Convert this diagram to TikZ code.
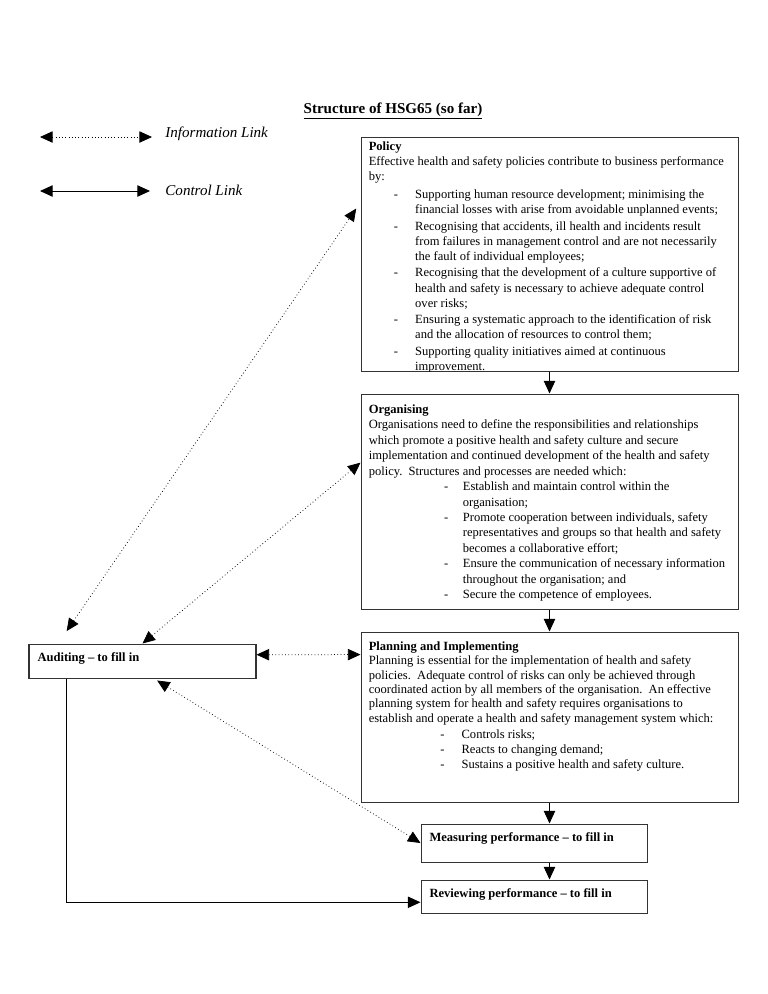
\documentclass[tikz,border=0pt]{standalone}
\usepackage{fontspec}
\setmainfont{Liberation Serif}
\usetikzlibrary{arrows.meta,positioning,fit,calc}

\newlength{\dashin}
\newlength{\itemin}
\newcommand{\di}[1]{\hspace*{\dashin}\makebox[\dimexpr\itemin-\dashin\relax][l]{-}#1}
\newcommand{\ci}[1]{\hspace*{\itemin}#1}

\tikzset{
	box/.style = {draw=black!80, line width=0.8pt, inner sep=0pt},
	boxtext/.style = {anchor=north west, align=left, inner xsep=6.4pt, inner ysep=4pt,
		font=\fontsize{10}{12}\selectfont},
	boldtext/.style = {anchor=north west, inner xsep=7pt, inner ysep=6.8pt,
		font=\fontsize{10}{12}\selectfont\bfseries},
	legendtext/.style = {anchor=west, font=\fontsize{12}{14}\selectfont\itshape},
	infolink/.style = {{Triangle[length=10pt,width=9pt]}-{Triangle[length=10pt,width=9pt]},
		dotted, line width=0.6pt},
	ctrllink/.style = {{Triangle[length=10pt,width=9pt]}-{Triangle[length=10pt,width=9pt]},
		line width=0.8pt},
	flow/.style = {-{Triangle[length=10pt,width=9pt]}, line width=0.8pt}
}

\begin{document}
\begin{tikzpicture}[x=0.797pt, y=-0.797pt]
	\useasboundingbox (0,0) rectangle (768,994);

	% title and legend
	\node[font=\fontsize{12}{14}\selectfont\bfseries] (title) at (393,111)
		{\underline{Structure of HSG65 (so far)}};
	\coordinate (infoa) at (40,137);
	\coordinate (infob) at (152,137);
	\draw[infolink] (infoa) -- (infob);
	\node[legendtext] (infolabel) at (161,134) {Information Link};
	\coordinate (ctrla) at (40,191);
	\coordinate (ctrlb) at (150,191);
	\draw[ctrllink] (ctrla) -- (ctrlb);
	\node[legendtext] (ctrllabel) at (161,190) {Control Link};

	% boxes
	\node[box, fit={(361,137) (738,371)}] (policy) {};
	\node[box, fit={(361,394) (738,609)}] (organising) {};
	\node[box, fit={(361,632) (738,802)}] (planning) {};
	\node[box, fit={(29,644) (256,678)}] (auditing) {};
	\node[box, fit={(421,824) (647,862)}] (measuring) {};
	\node[box, fit={(421,880) (647,913)}] (reviewing) {};

	\setlength{\dashin}{20pt}\setlength{\itemin}{37pt}
	\begin{scope}
		\clip (policy.north west) rectangle (policy.south east);
		\node[boxtext] (policytext) at (policy.north west) {%
			\textbf{Policy}\\
			Effective health and safety policies contribute to business performance\\
			by:\\[2pt]
			\di{Supporting human resource development; minimising the}\\
			\ci{financial losses with arise from avoidable unplanned events;}\\[1.4pt]
			\di{Recognising that accidents, ill health and incidents result}\\
			\ci{from failures in management control and are not necessarily}\\
			\ci{the fault of individual employees;}\\[1.4pt]
			\di{Recognising that the development of a culture supportive of}\\
			\ci{health and safety is necessary to achieve adequate control}\\
			\ci{over risks;}\\[1.4pt]
			\di{Ensuring a systematic approach to the identification of risk}\\
			\ci{and the allocation of resources to control them;}\\[1.4pt]
			\di{Supporting quality initiatives aimed at continuous}\\
			\ci{improvement.}};
	\end{scope}

	\setlength{\dashin}{60pt}\setlength{\itemin}{75pt}
	\node[boxtext, inner ysep=8.8pt, font=\fontsize{10}{12.3}\selectfont] (organisingtext)
		at (organising.north west) {%
		\textbf{Organising}\\
		Organisations need to define the responsibilities and relationships\\
		which promote a positive health and safety culture and secure\\
		implementation and continued development of the health and safety\\
		policy.\ \ Structures and processes are needed which:\\
		\di{Establish and maintain control within the}\\
		\ci{organisation;}\\
		\di{Promote cooperation between individuals, safety}\\
		\ci{representatives and groups so that health and safety}\\
		\ci{becomes a collaborative effort;}\\
		\di{Ensure the communication of necessary information}\\
		\ci{throughout the organisation; and}\\
		\di{Secure the competence of employees.}};

	\setlength{\dashin}{57pt}\setlength{\itemin}{74pt}
	\node[boxtext, inner ysep=8pt, font=\fontsize{10}{11.4}\selectfont] (planningtext)
		at (planning.north west) {%
		\textbf{Planning and Implementing}\\
		Planning is essential for the implementation of health and safety\\
		policies.\ \ Adequate control of risks can only be achieved through\\
		coordinated action by all members of the organisation.\ \ An effective\\
		planning system for health and safety requires organisations to\\
		establish and operate a health and safety management system which:\\[1.5pt]
		\di{Controls risks;}\\[0.8pt]
		\di{Reacts to changing demand;}\\[0.8pt]
		\di{Sustains a positive health and safety culture.}};

	\node[boldtext] (auditingtext) at (auditing.north west) {Auditing -- to fill in};
	\node[boldtext] (measuringtext) at (measuring.north west) {Measuring performance -- to fill in};
	\node[boldtext] (reviewingtext) at (reviewing.north west) {Reviewing performance -- to fill in};

	% control flow
	\draw[flow] (policy.south) -- (organising.north);
	\draw[flow] (organising.south) -- (planning.north);
	\draw[flow] (planning.south) -- (planning.south |- measuring.north);
	\draw[flow] (measuring.south -| planning.south) -- (reviewing.north -| planning.south);
	\draw[flow] ($(auditing.south west)!0.167!(auditing.south east)$)
		|- ($(reviewing.north west)!0.67!(reviewing.south west)$);

	% information links
	\draw[infolink] ($(auditing.north east)!0.32!(auditing.south east)$)
		-- ($(planning.north west)!0.135!(planning.south west)$);
	\draw[infolink, shorten <=12pt, shorten >=6pt] ($(auditing.north west)!0.13!(auditing.north east)$)
		-- ($(policy.north west)!0.28!(policy.south west)$);
	\draw[infolink] (auditing.north)
		-- ($(organising.north west)!0.32!(organising.south west)$);
	\draw[infolink, shorten <=3pt] ($(auditing.south west)!0.55!(auditing.south east)$)
		-- (measuring.west);
\end{tikzpicture}
\end{document}
